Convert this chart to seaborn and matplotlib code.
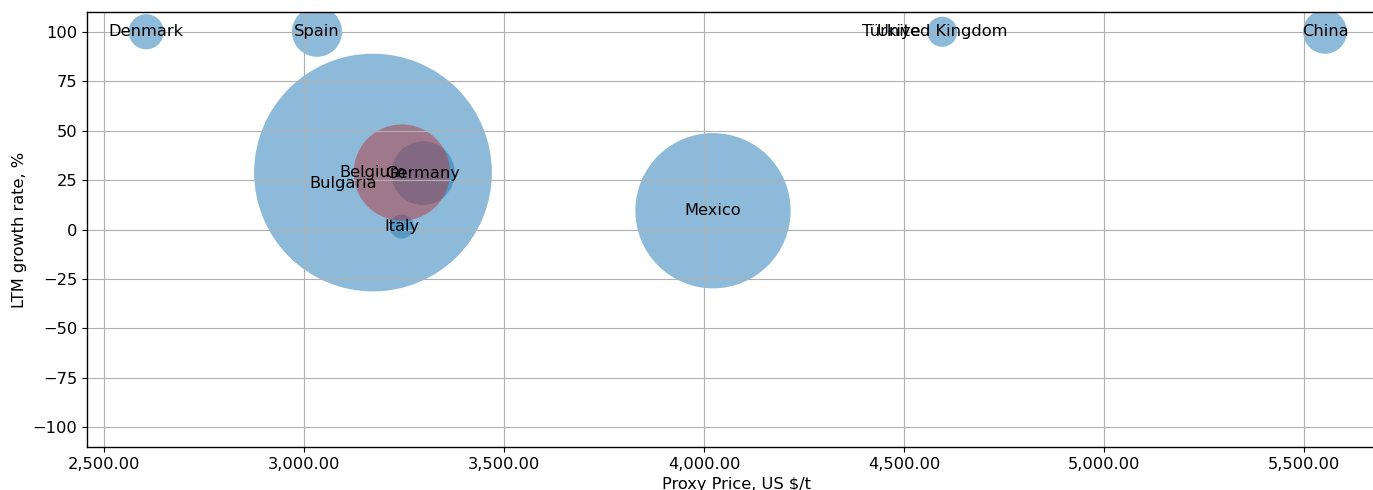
import matplotlib
matplotlib.use("Agg")
import matplotlib.pyplot as plt
import matplotlib.ticker as mticker
import seaborn as sns
import pandas as pd

countries = ["Belgium", "Mexico", "Spain", "China", "Denmark", "United Kingdom",
             "Türkiye", "Bulgaria", "Germany", "Italy", ""]
price = [3172, 4022, 3032, 5552, 2605, 4595, 4467, 3097, 3297, 3244, 3244]
growth = [28.8, 9.5, 100, 100, 100, 100, 100, 23.5, 28.5, 1.5, 28.8]
volume = [29300, 12500, 1300, 1000, 640, 470, 20, 8, 2100, 300, 4800]
group = ["other"] * 10 + ["focus"]

df = pd.DataFrame({"country": countries, "price": price, "growth": growth,
                   "volume": volume, "group": group})

sns.set_style("ticks")
plt.rcParams['font.family'] = ['DejaVu Sans']
plt.rcParams['text.color'] = 'black'
plt.rcParams['axes.labelcolor'] = 'black'
plt.rcParams['xtick.color'] = 'black'
plt.rcParams['ytick.color'] = 'black'

fig = plt.figure(figsize=(13.73, 4.90), dpi=100)
ax = fig.add_axes([87 / 1373, 1 - 447 / 490, 1300 / 1373, 435 / 490])

vmin, vmax = min(volume), max(volume)
sns.scatterplot(data=df, x="price", y="growth", size="volume", hue="group",
                palette={"other": "#1f77b4", "focus": "#b1393f"},
                sizes=(vmin, vmax), size_norm=(vmin, vmax), alpha=0.5,
                linewidth=0, legend=False, ax=ax, zorder=1)

for c, x, y in zip(countries, price, growth):
    if c:
        ax.text(x, y, c, ha="center", va="center", fontsize=11.7,
                color="black", zorder=4)

ax.set_xlim(2457, 5707)
ax.set_ylim(-110, 110)
ax.set_yticks([-100, -75, -50, -25, 0, 25, 50, 75, 100])
ax.set_xticks([2500, 3000, 3500, 4000, 4500, 5000, 5500])
ax.xaxis.set_major_formatter(mticker.StrMethodFormatter("{x:,.2f}"))
ax.set_axisbelow(False)
ax.grid(True, color="#b0b0b0", linewidth=0.8, zorder=2)
ax.tick_params(labelsize=11.7, length=3.5)
ax.set_xlabel("Proxy Price, US $/t", fontsize=11.7)
ax.set_ylabel("LTM growth rate, %", fontsize=11.7)
for s in ax.spines.values():
    s.set_color("black")
    s.set_linewidth(1)
    s.set_zorder(5)

fig.savefig("out.png", dpi=100)
